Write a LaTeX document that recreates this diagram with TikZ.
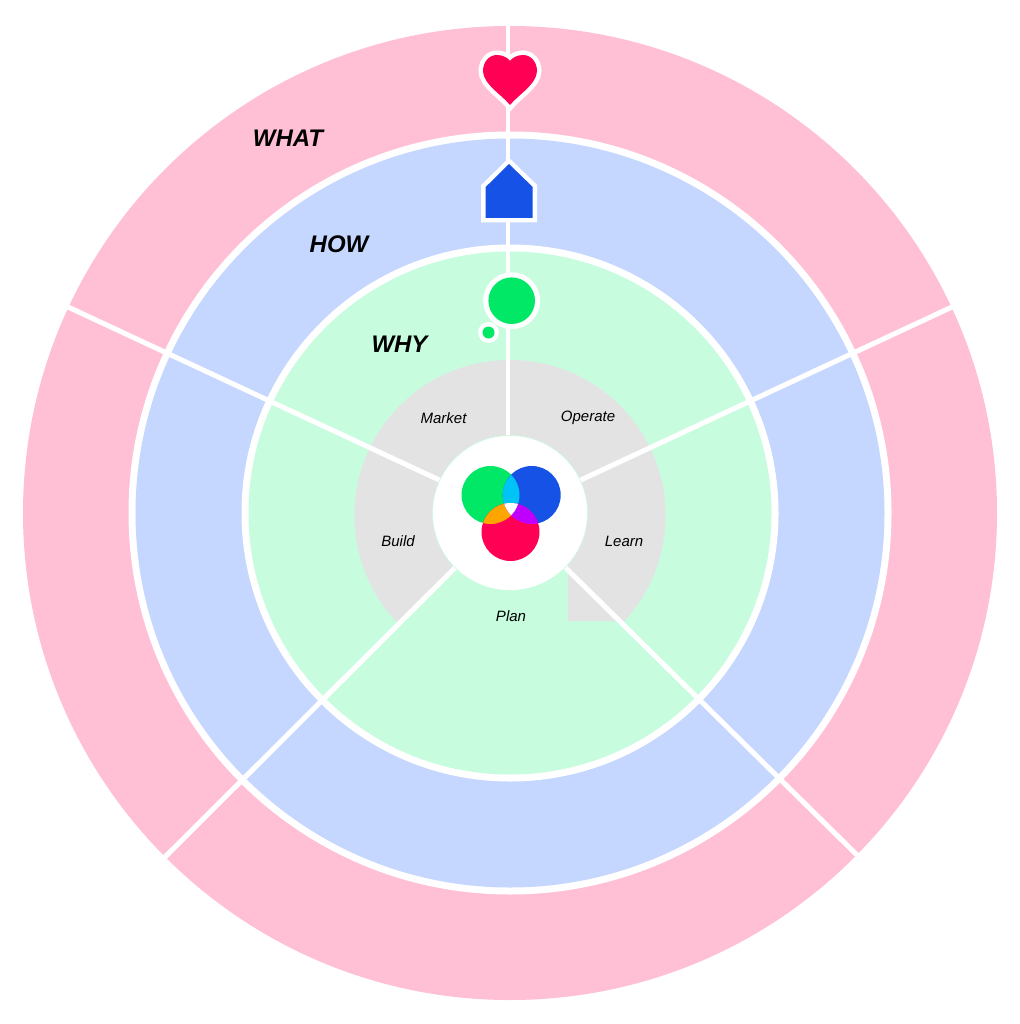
\documentclass[tikz,border=0pt]{standalone}
\usepackage{fontspec}
\setmainfont{Liberation Sans}
\definecolor{pinkring}{HTML}{FFC0D5}
\definecolor{bluering}{HTML}{C5D7FF}
\definecolor{greenring}{HTML}{C7FCDF}
\definecolor{grayring}{HTML}{E3E3E3}
\definecolor{strongred}{HTML}{FF0055}
\definecolor{strongblue}{HTML}{1652E6}
\definecolor{stronggreen}{HTML}{00E865}
\definecolor{mixcyan}{HTML}{00C4F5}
\definecolor{mixorange}{HTML}{FFA500}
\definecolor{mixpurple}{HTML}{C000FF}
\tikzset{
  spoke/.style={draw=white,line width=5pt},
  biglabel/.style={font=\fontsize{24}{26}\selectfont\bfseries\itshape,text=black,inner sep=0pt},
  smalllabel/.style={font=\fontsize{15}{17}\selectfont\itshape,text=black,inner sep=0pt},
  icon/.style={preaction={draw=white,line width=9pt,line join=miter}}
}
\begin{document}
\begin{tikzpicture}[x=1pt,y=-1pt]
\useasboundingbox[fill=white] (0,0) rectangle (1019,1024);
\coordinate (c) at (510,513);
% rings
\fill[pinkring] (c) circle (487pt);
\fill[white] (c) circle (381.5pt);
\fill[bluering] (c) circle (374.5pt);
\fill[white] (c) circle (268.5pt);
\fill[greenring] (c) circle (261.5pt);
\fill[grayring] (510,515.5) circle (155.5pt);
% green wedge with its square notch of grey
\begin{scope}
  \clip (c) -- (110,913) -- (910,913) -- cycle;
  \fill[greenring] (c) circle (159pt);
\end{scope}
\fill[grayring] (562,565) -- (568,570) -- (568,621) -- (624,621) -- cycle;
% spokes
\coordinate (topend) at (508,26);
\coordinate (ulend) at (68,307);
\coordinate (urend) at (952,307);
\coordinate (llend) at (165,857);
\coordinate (lrend) at (857,855);
\draw[spoke,line width=4.5pt] (508,513) -- (topend);
\draw[spoke] (c) -- (ulend);
\draw[spoke] (c) -- (urend);
\draw[spoke] (c) -- (llend);
\draw[spoke] (c) -- (lrend);
% centre
\fill[white,draw=greenring,line width=0.6pt] (c) circle (77.5pt);
\coordinate (vg) at (490.5,495);
\coordinate (vb) at (531.7,495);
\coordinate (vr) at (510.5,532);
\fill[stronggreen] (vg) circle (29pt);
\fill[strongblue] (vb) circle (29pt);
\fill[strongred] (vr) circle (29pt);
\begin{scope}
  \clip (vg) circle (29pt);
  \fill[mixcyan] (vb) circle (29pt);
  \fill[mixorange] (vr) circle (29pt);
\end{scope}
\begin{scope}
  \clip (vb) circle (29pt);
  \clip (vr) circle (29pt);
  \fill[mixpurple] (460,460) rectangle (570,570);
  \clip (vg) circle (29pt);
  \fill[white] (460,460) rectangle (570,570);
\end{scope}
% icons
\path[fill=strongred,icon]
  (510,105) .. controls (502,95) and (483,84) .. (483,71)
  .. controls (483,62) and (489,55) .. (497,55)
  .. controls (503,55) and (508,58) .. (510,61)
  .. controls (512,58) and (517,55) .. (523,55)
  .. controls (531,55) and (537,62) .. (537,71)
  .. controls (537,84) and (518,95) .. (510,105) -- cycle;
\path[fill=strongblue,icon]
  (509,164) -- (532.7,187) -- (532.7,218) -- (485.7,218) -- (485.7,187) -- cycle;
\fill[white] (511.7,300.7) circle (28.5pt);
\fill[stronggreen] (511.7,300.7) circle (23.3pt);
\fill[white] (488.5,332.5) circle (10.5pt);
\fill[stronggreen] (488.5,332.5) circle (6pt);
% labels
\node[biglabel] (what) at (288,138.5) {WHAT};
\node[biglabel] (how) at (339,244) {HOW};
\node[biglabel] (why) at (399.5,344) {WHY};
\node[smalllabel] (market) at (443.5,418) {Market};
\node[smalllabel] (operate) at (588,418) {Operate};
\node[smalllabel] (build) at (398,541) {Build};
\node[smalllabel] (learn) at (624,541) {Learn};
\node[smalllabel] (plan) at (511,616) {Plan};
\end{tikzpicture}
\end{document}
